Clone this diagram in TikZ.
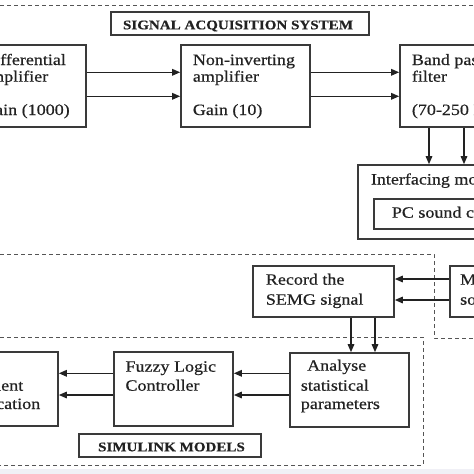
\documentclass[tikz,border=0pt]{standalone}
\usepackage{fontspec}
\setmainfont{Liberation Serif}[FakeStretch=1.14, FakeBold=0.5]
\usetikzlibrary{arrows.meta}
\definecolor{ink}{HTML}{222222}
\definecolor{edge}{HTML}{3A3A3A}
\definecolor{dashc}{HTML}{555555}
\definecolor{strip}{HTML}{F0F0F6}
\tikzset{
  box/.style={draw=edge, line width=1.6pt, rectangle, inner sep=0pt},
  txt/.style={inner sep=0pt, anchor=base west, text=ink, font=\fontsize{15.8}{16.7}\selectfont},
  ttl/.style={inner sep=0pt, anchor=base, text=ink, font=\fontsize{13.2}{14}\selectfont\bfseries},
  arr/.style={draw=ink, line width=1.4pt, -{Triangle[length=8pt,width=6.5pt]}},
  dsh/.style={draw=dashc, line width=1pt, dash pattern=on 4pt off 3pt},
}
\begin{document}
\begin{tikzpicture}[x=1pt,y=-1pt]
\useasboundingbox (0,0) rectangle (474,474);
\clip (0,0) rectangle (474,474);
\fill[white] (0,0) rectangle (474,474);
\fill[strip] (0,469) rectangle (474,474);

% dashed region borders
\draw[dsh] (0,5) -- (474,5);
\draw[dsh] (0,254) -- (434,254) -- (434,338) -- (474,338);
\draw[dsh] (0,337) -- (423,337) -- (423,465) -- (0,465);

% title boxes
\node[box, minimum width=258pt, minimum height=23pt] (title) at (240,23.5) {};
\node[ttl] (titleT) at (238,29.3) {SIGNAL ACQUISITION SYSTEM};
\node[box, minimum width=182pt, minimum height=23pt] (simul) at (170,445.5) {};
\node[ttl] (simulT) at (171.5,451.3) {SIMULINK MODELS};

% signal chain boxes
\node[box, minimum width=116pt, minimum height=82pt] (diff) at (28,86) {};
\node[txt] (diff1) at (-18,65) {Differential};
\node[txt] (diff2) at (-18,81.7) {amplifier};
\node[txt] (diff3) at (-18,115) {Gain (1000)};

\node[box, minimum width=129pt, minimum height=82pt] (noninv) at (245.5,86) {};
\node[txt] (non1) at (192.7,65) {Non-inverting};
\node[txt] (non2) at (192.7,81.7) {amplifier};
\node[txt] (non3) at (192.7,115) {Gain (10)};

\node[box, minimum width=129pt, minimum height=82pt] (band) at (464.5,86) {};
\node[txt] (band1) at (411.7,65) {Band pass};
\node[txt] (band2) at (411.7,81.7) {filter};
\node[txt] (band3) at (411.7,115) {(70-250 Hz)};

\node[box, minimum width=162pt, minimum height=74pt] (intf) at (439,202) {};
\node[txt] (intfT) at (370.7,184.5) {Interfacing module};
\node[box, minimum width=131pt, minimum height=30pt] (pc) at (439.5,214) {};
\node[txt] (pcT) at (391.7,217.7) {PC sound card};

% processing boxes
\node[box, minimum width=141pt, minimum height=51pt] (record) at (323.5,291.5) {};
\node[txt] (rec1) at (265.7,284.7) {Record the};
\node[txt] (rec2) at (265.7,304.7) {SEMG signal};

\node[box, minimum width=140pt, minimum height=51pt] (mbox) at (520,291.5) {};
\node[txt] (m1) at (460,284.7) {MATLAB};
\node[txt] (m2) at (460,304.7) {software};

\node[box, minimum width=119pt, minimum height=74pt] (analyse) at (349.5,390) {};
\node[txt] (an1) at (307,370.7) {Analyse};
\node[txt] (an2) at (300.7,390.7) {statistical};
\node[txt] (an3) at (300.7,409) {parameters};

\node[box, minimum width=119pt, minimum height=74pt] (fuzzy) at (173.5,389) {};
\node[txt] (fz1) at (125.3,371.7) {Fuzzy Logic};
\node[txt] (fz2) at (125.3,390.7) {Controller};

\node[box, minimum width=128pt, minimum height=74pt] (move) at (-6,389) {};
\node[txt] (mv1) at (-55,390.7) {Movement};
\node[txt] (mv2) at (-55,409) {classification};

% connectors
\draw[arr] (diff.east |- 0,72.3) -- (noninv.west |- 0,72.3);
\draw[arr] (diff.east |- 0,96.3) -- (noninv.west |- 0,96.3);
\draw[arr] (noninv.east |- 0,72.3) -- (band.west |- 0,72.3);
\draw[arr] (noninv.east |- 0,96.3) -- (band.west |- 0,96.3);
\draw[arr] (band.south -| 429,0) -- (intf.north -| 429,0);
\draw[arr] (band.south -| 464,0) -- (intf.north -| 464,0);
\draw[arr] (mbox.west |- 0,279) -- (record.east |- 0,279);
\draw[arr] (mbox.west |- 0,300) -- (record.east |- 0,300);
\draw[arr] (record.south -| 351,0) -- (analyse.north -| 351,0);
\draw[arr] (record.south -| 375,0) -- (analyse.north -| 375,0);
\draw[arr] (analyse.west |- 0,373.3) -- (fuzzy.east |- 0,373.3);
\draw[arr] (analyse.west |- 0,395) -- (fuzzy.east |- 0,395);
\draw[arr] (fuzzy.west |- 0,373.3) -- (move.east |- 0,373.3);
\draw[arr] (fuzzy.west |- 0,395) -- (move.east |- 0,395);
\end{tikzpicture}
\end{document}
